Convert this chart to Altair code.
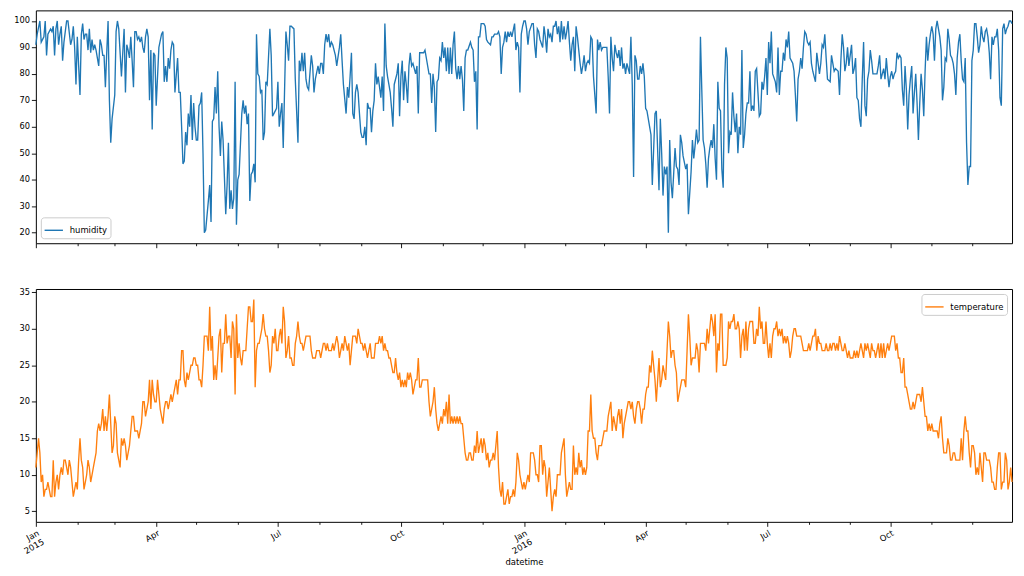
import altair as alt
import pandas as pd

START = "2015-01-01"

# ---------------- humidity readings: (day offset from 2015-01-01, humidity %) ----------------
hum_h1 = [(0,91),(1,95),(3,100),(4,92),(6,94),(7,100),(8,87),(9,95),(11,97),(12,96),(13,98),(14,87),(15,97),(16,100),
          (17,91),(18,95),(19,98),(20,85),(21,92),(23,100),(24,100),(26,91),(27,93),(28,98),(29,90),(30,76),(31,94),
          (33,72),(34,95),(35,99),(36,93),(37,95),(38,95),(39,89),(40,97),(41,88),(42,93),(43,89),(44,91),(45,89),
          (47,83),(48,93),(49,91),(50,87),(51,87),(52,75),(53,88),(54,100),(55,70),(56,54),(57,63),(59,72),(60,96),
          (61,100),(62,97),(64,79),(66,97),(67,73),(68,91),(69,89),(70,86),(71,94),(72,85),(73,75),(74,96),(75,96),
          (76,93),(77,94),(78,92),(79,94),(80,90),(81,88),(82,94),(83,97),(84,94),(85,70),(86,89),(87,59),(88,88),
          (89,87),(90,68),(92,90),(94,95),(95,96),(96,77),(97,83),(98,77),(99,86),(100,82),(101,89),(102,92),(103,91),
          (104,73),(106,86),(107,73),(108,73),(109,60),(110,46),(111,47),(112,58),(113,53),(114,65),(115,60),(116,72),
          (117,55),(118,69),(119,60),(120,55),(121,55),(122,68),(123,69),(124,73),(125,50),(126,20),(127,21),(129,32),
          (130,38),(131,24),(132,62),(133,63),(134,75),(135,65),(136,81),(137,60),(138,49),(139,62),(140,55),(141,41),
          (142,27),(143,38),(144,54),(145,29),(146,36),(147,29),(148,33),(149,77),(150,23),(151,40),(152,42),(154,65),
          (155,70),(156,65),(157,68),(158,61),(159,65),(160,32),(161,42),(162,43),(163,46),(164,39),(165,95),(166,80),
          (167,79),(168,73),(169,74),(170,55),(171,58),(172,77),(173,76),(175,97),(176,87),(177,64),(178,65),(180,67),
          (181,77)]
hum_h2 = [(182,60),(183,65),(184,69),(185,52),(187,96),(188,91),(189,85),(190,98),(191,98),(193,97),(194,78),(196,54),
          (197,85),(198,81),(199,88),(200,81),(201,88),(202,78),(203,75),(204,74),(206,87),(207,83),(208,73),(209,78),
          (211,83),(212,80),(213,84),(214,84),(215,80),(216,91),(217,95),(218,92),(219,95),(220,90),(221,92),(222,91),
          (224,87),(225,83),(227,90),(228,95),(229,85),(230,76),(232,65),(233,75),(234,71),(235,79),(236,88),(237,65),
          (238,63),(239,73),(240,76),(241,73),(242,65),(243,58),(244,56),(245,56),(246,60),(247,53),(248,69),(249,67),
          (250,67),(251,58),(252,66),(253,70),(254,84),(255,76),(256,79),(258,71),(259,79),(260,66),(261,99),(262,83),
          (263,79),(264,76),(265,73),(266,67),(267,60),(268,76),(270,80),(271,84),(272,64),(273,79),(274,85),(275,70),
          (276,81),(277,76),(278,69),(279,83),(280,88),(281,83),(282,84),(284,80),(285,83),(286,65),(287,88),(289,88),
          (290,88),(291,89),(292,86),(294,80),(295,80),(296,69),(297,80),(298,75),(299,58),(300,77),(301,78),(302,86),
          (303,85),(304,92),(305,86),(306,90),(307,81),(308,90),(309,80),(310,90),(311,80),(312,91),(313,96),(314,82),
          (315,78),(316,83),(317,78),(318,83),(319,78),(320,66),(321,86),(322,89),(323,89),(325,92),(326,90),(327,89),
          (328,77),(329,81),(330,59),(331,94),(332,94),(333,99),(335,99),(336,98),(337,93),(338,92),(340,91),(341,94),
          (342,94),(343,95),(345,95),(346,96),(347,94),(348,80),(349,90),(350,92),(351,96),(352,92),(353,96),(354,94),
          (355,96),(356,94),(358,99),(359,89),(360,92),(361,90),(362,73),(363,95),(364,98),(365,100)]
hum_h3 = [(366,100),(367,97),(368,91),(369,96),(371,99),(372,99),(373,91),(374,86),(375,97),(376,96),(377,93),(379,90),
          (380,98),(381,94),(382,88),(383,97),(384,94),(385,95),(386,92),(387,98),(388,98),(389,100),(390,95),(391,98),
          (392,92),(393,100),(394,93),(395,98),(396,93),(397,96),(398,100),(399,92),(400,85),(401,91),(402,94),(403,81),
          (404,98),(405,94),(406,89),(407,84),(408,80),(409,83),(410,87),(411,81),(412,84),(413,85),(414,84),(415,94),
          (416,93),(417,79),(419,65),(420,93),(421,89),(422,92),(423,89),(424,90),(426,90),(427,90),(428,79),(429,65),
          (430,94),(431,86),(432,81),(433,91),(434,88),(435,86),(436,89),(437,83),(438,90),(439,82),(440,84),(441,80),
          (442,84),(444,80),(445,94),(446,76),(447,41),(448,87),(449,85),(450,78),(451,78),(452,83),(453,80),(454,84),
          (455,79),(456,67),(457,66),(459,60),(460,57),(461,38),(463,65),(464,66),(466,36),(467,63),(468,50),(469,34),
          (470,45),(471,42),(472,45),(473,20),(474,55),(475,39),(476,33),(478,52),(479,45),(480,44),(481,38),(482,57),
          (483,54),(484,49),(486,44),(487,46),(488,27),(490,43),(491,55),(492,48),(493,53),(494,59),(495,54),(496,55),
          (497,94),(498,74),(499,55),(500,52),(501,46),(502,37),(503,48),(504,52),(505,55),(506,52),(507,61),(508,48),
          (509,40),(510,77),(511,67),(512,66),(513,44),(514,37),(515,76),(516,90),(517,86),(518,50),(519,58),(520,57),
          (521,73),(522,64),(523,58),(524,65),(525,50),(526,60),(527,57),(528,89),(529,52),(530,57),(531,65),(532,69),
          (533,69),(534,81),(535,66),(536,68),(537,66),(538,81),(539,82),(540,73),(541,64),(542,65),(543,77),(544,74),
          (545,79),(546,86)]
hum_h4 = [(547,72),(548,92),(549,84),(550,96),(551,80),(553,77),(554,73),(555,90),(556,72),(557,81),(558,81),(559,88),
          (560,85),(561,93),(562,90),(563,96),(564,86),(566,84),(567,81),(568,72),(569,62),(570,78),(571,81),(572,86),
          (573,82),(574,90),(575,96),(576,95),(577,92),(578,91),(579,92),(580,84),(581,81),(583,77),(584,88),(585,84),
          (586,80),(587,84),(588,91),(589,90),(590,95),(591,86),(592,78),(594,77),(595,87),(596,84),(597,81),(598,82),
          (600,81),(601,72),(602,85),(603,95),(604,90),(605,81),(606,84),(607,90),(608,83),(610,91),(611,80),(612,82),
          (613,86),(614,71),(615,70),(616,63),(617,60),(618,78),(619,92),(620,68),(621,64),(622,78),(623,81),(624,89),
          (625,85),(626,80),(627,80),(628,80),(629,80),(630,83),(631,87),(632,78),(634,82),(635,78),(636,86),(637,80),
          (638,75),(639,79),(640,81),(641,78),(642,80),(643,81),(644,88),(645,86),(646,87),(647,86),(648,74),(649,68),
          (650,83),(651,74),(652,59),(653,72),(654,78),(655,83),(656,65),(657,73),(658,80),(659,69),(660,55),(661,69),
          (662,80),(663,74),(664,64),(665,81),(666,94),(667,85),(668,91),(669,95),(670,98),(671,95),(672,85),(673,97),
          (674,100),(675,97),(676,94),(677,89),(678,70),(679,75),(680,86),(681,85),(682,97),(683,93),(684,87),(685,86),
          (686,84),(687,80),(688,72),(689,86),(690,92),(691,95),(692,85),(693,78),(694,77),(695,86),(696,54),(697,38),
          (698,45),(699,45),(700,85),(701,89),(702,99),(703,99),(704,94),(705,88),(706,91),(707,98),(708,94),(709,92),
          (710,96),(711,97),(712,94),(713,88),(714,78),(715,94),(716,91),(717,94),(718,94),(719,97),(720,89),(721,71),
          (722,68),(723,97),(724,99),(725,95),(726,97),(727,98),(728,100),(729,100),(730,99)]

# ---------------- temperature: daily readings, one list per half-year ----------------
temp_starts = ["2015-01-01", "2015-07-02", "2016-01-01", "2016-07-01"]
temp_h1 = [11,13,15,13,9,10,7,8,8,9, 8,7,7,12,7,9,10,8,10,11, 10,12,12,11,10,12,11,9,7,8, 9,8,12,15,12,11,8,9,10,12,
           11,9,10,11,12,13,16,17,16,17, 19,16,18,16,18,21,17,13,14,18, 17,13,12,11,15,14,15,14,12,13,
           14,16,18,18,16,16,16,15,16,17, 20,20,18,19,20,23,19,23,21,20, 20,23,21,19,18,17,19,20,20,19,
           20,21,20,21,22,23,21,23,23,27, 27,23,22,24,23,24,25,25,26,26, 25,25,23,23,22,25,29,29,29,27,
           33,27,29,23,25,23,26,29,30,24, 28,28,32,28,29,29,26,31,30,21, 32,26,28,26,25,27,27,27,30,33,
           33,31,31,34,22,27,28,28,29,30, 32,30,29,29,27,24,25,29,28,30, 27,27]
temp_h2 = [29,30,28,33,31,26,27,29,26,26, 25,25,28,29,31,29,28,28,27,28, 29,29,29,29,27,26,26,26,27,27,
           27,26,27,28,28,27,28,27,27,27, 28,27,28,29,28,26,27,28,27,29, 28,27,28,25,27,29,29,29,28,30,
           29,28,28,27,28,27,26, 27,28,26,26,26,28,28,28,29,28, 29,27,28,27,27,26,26,25,24,24,
           26,24,23,24,22,23,22,23,22,24, 23,24,23,21,22,23,23,26,22,22, 23,23,23,23,23,20,18,19,20,22,
           19,17,16,17,18,17,19,18,20,17, 21,17,18,17,18,17,18,17,18,17, 17,15,13,12,12,13,13,12,12,14,
           13,16,13,14,15,13,15,14,12,13, 11,12,12,13,12,14,16,11,8,7, 9,6,6,7,8,6,7,7,8,7, 9,13,12,10,9,8]
temp_h3 = [9,8,9,10,9,13,13,13,12,10, 10,9,14,14,10,12,11,7,9,11, 8,5,7,8,7,10,10,10,13,14,
           15,10,7,8,9,8,8,14,10,11, 10,13,11,12,10,11,10,11,16,16, 21,16,15,15,13,12,14,14,14,15,
           16,16,16,18,19,20,16,18,17,16, 18,19,17,19,15,17,18,19,20,20, 19,20,18,17,19,20,20,19,17,19,
           19,21,22,22,25,24,27,25,23,20, 23,26,22,23,25,24,23,27,31,29, 26,27,27,25,24,20,21,22,23,23,
           23,22,27,32,29,25,26,26,26,28, 27,24,28,28,28,28,27,30,28,30, 32,31,29,32,24,28,27,32,32,25,
           25,25,26,31,30,31,31,32,30,30, 31,30,26,29,30,27,31,27,30,31, 31,31,28,28,30,29,33,30,31,28, 28,31]
temp_h4 = [28,26,28,26,29,30,30,31,29,30, 29,30,28,29,28,29,28,26,27,29, 30,30,29,29,29,29,28,27,27,27,
           27,28,27,28,29,29,30,27,29,28, 28,27,27,27,28,27,27,28,27,28, 28,27,28,27,29,28,27,27,28,27,
           26,27,26,26,26,27,26,27,26,27, 28,27,26,28,27,28,27,26,28,27, 27,26,27,28,26,28,26,28,26,27,
           28,27,28,29,29,29,27,28,26,26, 24,24,26,22,22,21,20,19,19,20, 19,20,21,21,21,20,22,20,18,18,
           16,17,16,17,16,16,16,16,15,17, 18,15,13,13,13,15,14,12,12,13, 13,12,12,12,12,15,12,16,18,16,
           16,13,11,14,14,13,10,11,10,13, 11,9,13,13,12,12,12,11,9,9, 8,8,11,13,13,8,9,9,13,12, 8,9,11,9]

# ---------------- axis ticks ----------------
tick_years = [2015, 2016]
tick_months = list(range(1, 13))
hum_ticks = [20, 30, 40, 50, 60, 70, 80, 90, 100]
temp_ticks = [5, 10, 15, 20, 25, 30, 35]

# ---------------- build tables ----------------
hum_pairs = hum_h1 + hum_h2 + hum_h3 + hum_h4
start = pd.Timestamp(START)
hum_df = pd.DataFrame({
    "datetime": [(start + pd.Timedelta(days=d)).strftime("%Y-%m-%d") for d, _ in hum_pairs],
    "humidity": [v for _, v in hum_pairs],
    "series": "humidity",
})

temp_parts = []
for s, seg in zip(temp_starts, [temp_h1, temp_h2, temp_h3, temp_h4]):
    temp_parts.append(pd.DataFrame({
        "datetime": pd.date_range(s, periods=len(seg), freq="D").strftime("%Y-%m-%d"),
        "temperature": seg,
    }))
temp_df = pd.concat(temp_parts, ignore_index=True)
temp_df["series"] = "temperature"

FONT = "DejaVu Sans"
x_values = [alt.DateTime(year=y, month=m, date=1, utc=True) for y in tick_years for m in tick_months]
x_domain = [alt.DateTime(year=2015, month=1, date=1, utc=True),
            alt.DateTime(year=2016, month=12, date=31, utc=True)]
x_scale = alt.Scale(type="utc", domain=x_domain, nice=False)
major = "utcmonth(datum.value) % 3 == 0"
tick_size = {"condition": {"test": major, "value": 4.5}, "value": 2.5}
label_expr = ("utcmonth(datum.value) == 0 ? [utcFormat(datum.value, '%b'), utcFormat(datum.value, '%Y')] : "
              "(utcmonth(datum.value) % 3 == 0 ? utcFormat(datum.value, '%b') : '')")

x_axis_top = alt.Axis(values=x_values, tickSize=tick_size, labels=False, grid=False, domain=False,
                      tickColor="black", tickWidth=0.9)
x_axis_bottom = alt.Axis(values=x_values, tickSize=tick_size, grid=False, domain=False,
                         tickColor="black", tickWidth=0.9, labelExpr=label_expr, labelAngle=330,
                         labelAlign="right", labelBaseline="top", labelPadding=2, labelOverlap=False,
                         labelFlush=False, labelBound=False, labelFont=FONT, labelFontSize=8.5,
                         labelColor="black", labelLineHeight=10, title="datetime", titleFont=FONT,
                         titleFontSize=8.5, titleFontWeight="normal", titleColor="black", titlePadding=3)


def y_axis(values):
    return alt.Axis(values=values, tickSize=4.5, labelPadding=2, grid=False, domain=False,
                    tickColor="black", tickWidth=0.9, labelFont=FONT, labelFontSize=8.3,
                    labelColor="black")


def legend(orient):
    return alt.Legend(title=None, orient=orient, offset=5, symbolType="stroke", symbolSize=340,
                      symbolStrokeWidth=1.4, labelFont=FONT, labelFontSize=8.5, labelColor="black",
                      fillColor="white", strokeColor="#cccccc", padding=3, cornerRadius=3,
                      labelOffset=6)


top = alt.Chart(hum_df).mark_line(strokeWidth=1.35).encode(
    x=alt.X("datetime:T", scale=x_scale, axis=x_axis_top, title=None),
    y=alt.Y("humidity:Q", scale=alt.Scale(domain=[16, 104], nice=False, zero=False),
            axis=y_axis(hum_ticks), title=None),
    color=alt.Color("series:N", scale=alt.Scale(domain=["humidity"], range=["#1f77b4"]),
                    legend=legend("bottom-left")),
).properties(width=981, height=234)

bottom = alt.Chart(temp_df).mark_line(strokeWidth=1.35).encode(
    x=alt.X("datetime:T", scale=x_scale, axis=x_axis_bottom),
    y=alt.Y("temperature:Q", scale=alt.Scale(domain=[3.55, 35.45], nice=False, zero=False),
            axis=y_axis(temp_ticks), title=None),
    color=alt.Color("series:N", scale=alt.Scale(domain=["temperature"], range=["#ff7f0e"]),
                    legend=legend("top-right")),
).properties(width=981, height=234)

chart = alt.vconcat(top, bottom, spacing=46, bounds="flush").resolve_scale(
    color="independent"
).resolve_legend(
    color="independent"
).properties(
    padding={"left": 5, "top": 0, "right": 0, "bottom": 0}, background="white"
).configure_view(
    stroke="black", strokeWidth=1
)

chart.save("out.html", embed_options={"renderer": "svg", "actions": False})
